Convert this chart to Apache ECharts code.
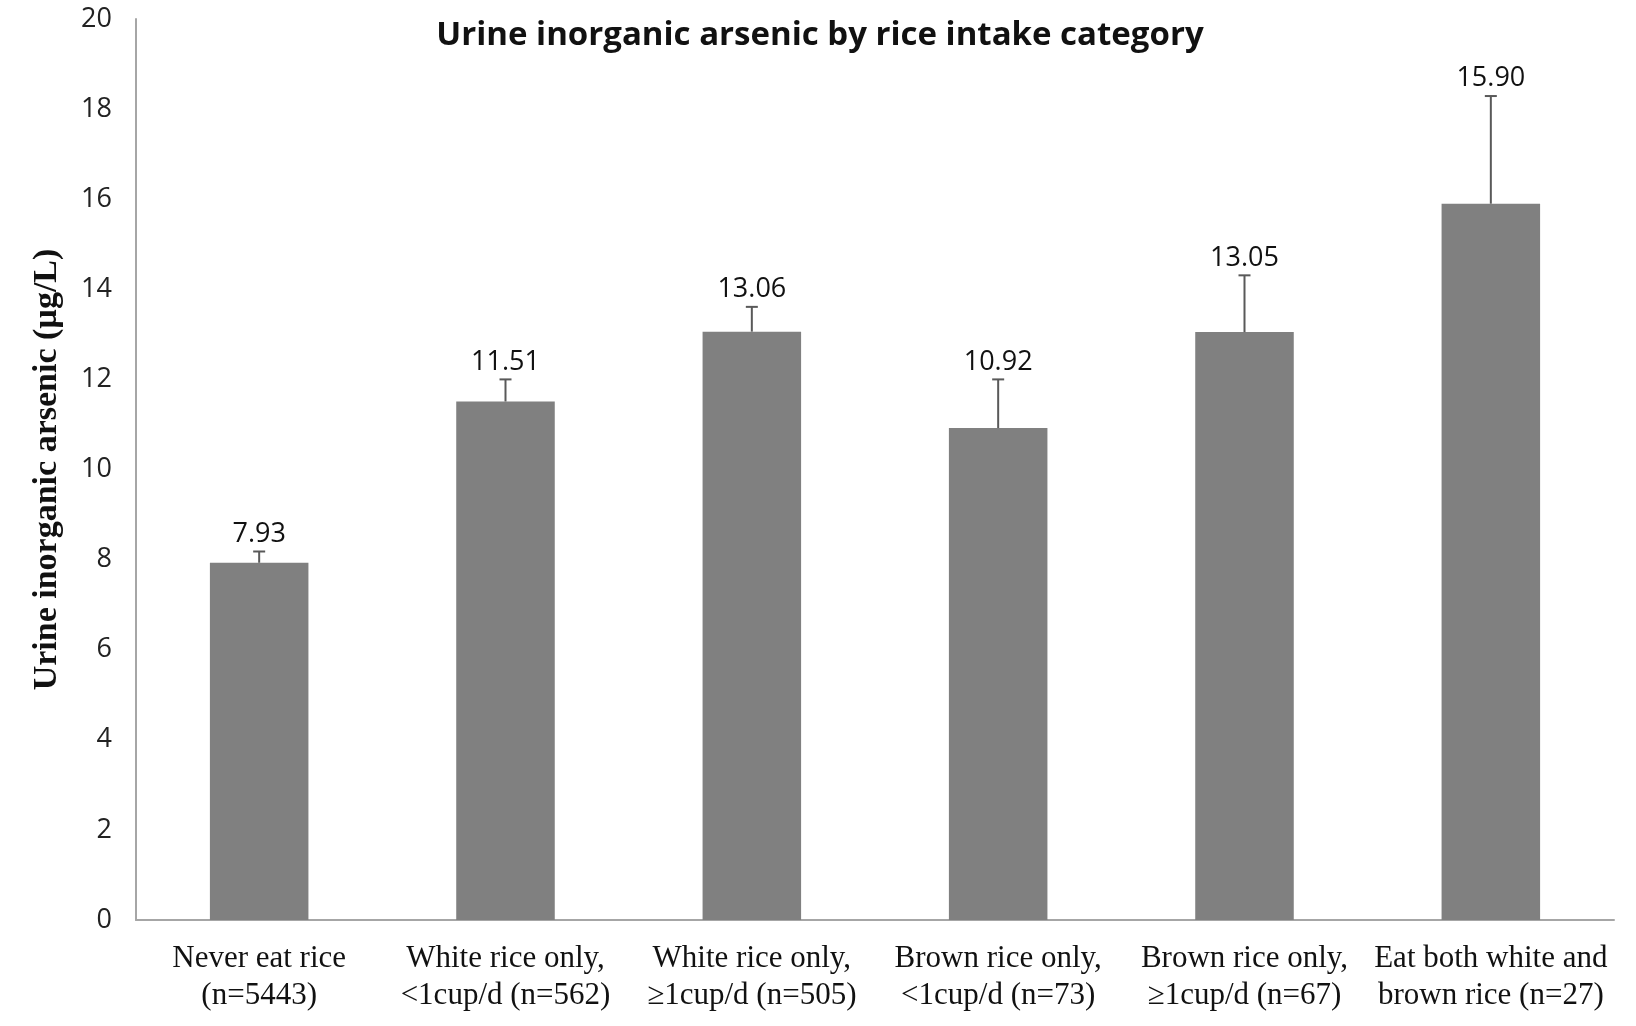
<!DOCTYPE html>
<html>
<head>
<meta charset="utf-8">
<script src="https://cdn.jsdelivr.net/npm/echarts@6/dist/echarts.min.js"></script>
<style>
html,body{margin:0;padding:0;background:#fff;}
#chart{width:1636px;height:1026px;}
</style>
</head>
<body>
<div id="chart"></div>
<script>
const categories = [
  "Never eat rice\n(n=5443)",
  "White rice only,\n<1cup/d (n=562)",
  "White rice only,\n\u22651cup/d (n=505)",
  "Brown rice only,\n<1cup/d (n=73)",
  "Brown rice only,\n\u22651cup/d (n=67)",
  "Eat both white and\nbrown rice (n=27)"
];
const means = [7.93, 11.51, 13.06, 10.92, 13.05, 15.90];
const errorUpper = [0.25, 0.49, 0.55, 1.08, 1.26, 2.39];
const yTicks = [0, 2, 4, 6, 8, 10, 12, 14, 16, 18, 20];

const chart = echarts.init(document.getElementById('chart'));
const errData = means.map((m, i) => [i, m, m + errorUpper[i]]);

chart.setOption({
  backgroundColor: '#ffffff',
  animation: false,
  title: {
    text: 'Urine inorganic arsenic by rice intake category',
    left: 815, top: 14, textAlign: 'center',
    textStyle: {fontFamily: 'Open Sans', fontWeight: 'bold', fontSize: 33, color: '#111'}
  },
  grid: {left: 136, right: 22, top: 19, bottom: 106, containLabel: false},
  xAxis: {
    type: 'category',
    data: categories,
    axisLine: {lineStyle: {color: '#a6a6a6', width: 2}},
    axisTick: {show: false},
    axisLabel: {
      interval: 0, margin: 20,
      fontFamily: 'Liberation Serif', fontSize: 31, color: '#111', lineHeight: 37
    }
  },
  yAxis: {
    type: 'value', min: yTicks[0], max: yTicks[yTicks.length - 1], interval: 2,
    name: 'Urine inorganic arsenic (\u00b5g/L)',
    nameLocation: 'middle', nameGap: 72,
    nameTextStyle: {fontFamily: 'Liberation Serif', fontWeight: 'bold', fontSize: 34, color: '#111'},
    axisLine: {show: true, lineStyle: {color: '#a6a6a6', width: 2}},
    axisTick: {show: false},
    splitLine: {show: false},
    axisLabel: {margin: 24, fontFamily: 'Open Sans', fontSize: 27, color: '#222'}
  },
  series: [
    {
      type: 'bar',
      data: means,
      barWidth: '40%',
      itemStyle: {color: '#808080'},
      z: 2
    },
    {
      type: 'custom',
      data: errData,
      z: 3,
      renderItem: function (params, api) {
        const x = api.value(0);
        const base = api.coord([x, api.value(1)]);
        const top = api.coord([x, api.value(2)]);
        const cap = 6;
        return {
          type: 'group',
          children: [
            {type: 'line', shape: {x1: base[0], y1: base[1], x2: top[0], y2: top[1]},
             style: {stroke: '#595959', lineWidth: 2}},
            {type: 'line', shape: {x1: top[0] - cap, y1: top[1], x2: top[0] + cap, y2: top[1]},
             style: {stroke: '#595959', lineWidth: 2}},
            {type: 'text', x: top[0], y: top[1] - 4,
             style: {text: api.value(1).toFixed(2), textAlign: 'center', textVerticalAlign: 'bottom',
                     fontFamily: 'Open Sans', fontSize: 27, fill: '#111'}}
          ]
        };
      }
    }
  ]
});
</script>
</body>
</html>
